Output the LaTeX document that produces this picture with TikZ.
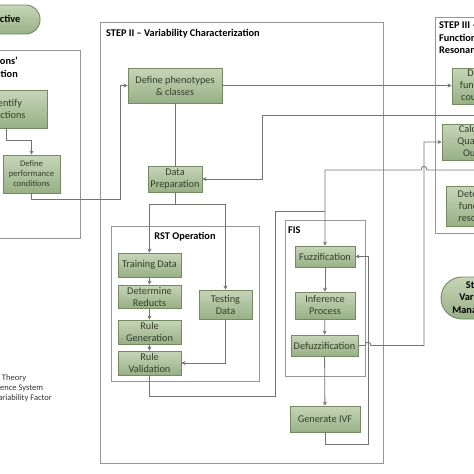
\documentclass[tikz,border=0pt]{standalone}
\usepackage{fontspec}
\setmainfont{Carlito}
\usetikzlibrary{arrows.meta}

\definecolor{boxtop}{RGB}{198,213,184}
\definecolor{boxbot}{RGB}{152,176,134}
\definecolor{boxline}{RGB}{116,138,98}
\definecolor{boxtext}{RGB}{52,64,42}
\definecolor{framegray}{RGB}{150,150,150}
\definecolor{linegray}{RGB}{115,115,115}

\tikzset{
  box/.style={draw=boxline, line width=0.9pt, top color=boxtop, bottom color=boxbot,
    align=center, text=boxtext, inner sep=1pt, font=\fontsize{10.3}{12}\selectfont},
  smallbox/.style={box, font=\fontsize{8.6}{10}\selectfont},
  pill/.style={box, text=black, font=\bfseries\fontsize{10.3}{12.5}\selectfont},
  frame/.style={draw=framegray, line width=1pt},
  title/.style={font=\bfseries\fontsize{10.3}{12.5}\selectfont, align=left, inner sep=0pt},
  legend/.style={font=\fontsize{8.5}{10}\selectfont, text=black!80, align=left, inner sep=0pt},
  conn/.style={draw=linegray, line width=0.8pt},
  arr/.style={conn, -{Stealth[length=4pt,width=4pt]}},
}

\begin{document}
\begin{tikzpicture}[x=1pt,y=-1pt]
  \clip (0,0) rectangle (474,474);

  % Frames
  \draw[frame] (-10,50) rectangle (80,238);
  \draw[frame] (100,22) rectangle (383,463);
  \draw[frame] (111,226) rectangle (259,381);
  \draw[frame] (285,220) rectangle (365,376);
  \draw[frame] (435,17) rectangle (530,233);

  % Titles
  \node[title, anchor=north east, align=right] (tI) at (18,57) {STEP I -- Functions'\\Identification};
  \node[title, anchor=base west] (tII) at (106,36) {STEP II -- Variability Characterization};
  \node[title, anchor=base] (tRST) at (185,239) {RST Operation};
  \node[title, anchor=base west] (tFIS) at (288,233) {FIS};
  \node[title, anchor=north west] (tIII) at (439,22) {STEP III --\\Functional\\Resonance};

  % Objective and step IV
  \node[pill, minimum width=80pt, minimum height=29pt, rounded corners=14pt] (obj) at (0,19.5) {Objective};
  \node[pill, minimum width=80pt, minimum height=42pt, rounded corners=21pt] (mgmt) at (481,298) {Step IV\\Variability\\Management};

  % Step I
  \node[box, minimum width=82pt, minimum height=38pt] (idf) at (6,109) {Identify\\functions};
  \node[smallbox, minimum width=57pt, minimum height=38pt] (perf) at (31.5,174) {Define\\performance\\conditions};

  % Step II
  \node[box, minimum width=94pt, minimum height=35pt] (phen) at (175,85.5) {Define phenotypes\\\& classes};
  \node[box, minimum width=54pt, minimum height=26pt] (prep) at (175,179) {Data\\Preparation};

  % RST
  \node[box, minimum width=63pt, minimum height=24pt] (train) at (149.5,265) {Training Data};
  \node[box, minimum width=63pt, minimum height=23pt] (reduct) at (149.5,296.5) {Determine\\Reducts};
  \node[box, minimum width=63pt, minimum height=24pt] (rgen) at (149.5,332) {Rule\\Generation};
  \node[box, minimum width=63pt, minimum height=24pt] (rval) at (149.5,363) {Rule\\Validation};
  \node[box, minimum width=53pt, minimum height=29pt] (test) at (225.5,304.5) {Testing\\Data};

  % FIS
  \node[box, minimum width=60pt, minimum height=21pt] (fuzz) at (325,256.5) {Fuzzification};
  \node[box, minimum width=60pt, minimum height=27pt] (infer) at (325,305.5) {Inference\\Process};
  \node[box, minimum width=67pt, minimum height=21pt] (defuzz) at (324.5,345.5) {Defuzzification};
  \node[box, minimum width=70pt, minimum height=26pt] (ivf) at (325,419) {Generate IVF};

  % Step III
  \node[box, minimum width=58pt, minimum height=36pt] (coupl) at (481,86) {Define\\functional\\couplings};
  \node[box, minimum width=72pt, minimum height=36pt] (calc) at (478,142) {Calculate\\Quality of\\Output};
  \node[box, minimum width=68pt, minimum height=40pt] (reson) at (480,206) {Determine\\functional\\resonance};

  % Legend
  \node[legend, anchor=north west] (key) at (-51,374) {RST: Rough Set Theory\\FIS: Fuzzy Inference System\\IVF: Index of Variability Factor};

  % Links step I
  \draw[arr] (idf.south) -- ++(0,12) -| (perf.north);
  \draw[arr] (perf.south) |- (120,199) |- (phen.west);

  % Links step II
  \coordinate (fromA) at (530,115);
  \coordinate (fromB) at (530,170);
  \coordinate (split) at (175,204);
  \coordinate (join) at (325,211);
  \draw[conn] (phen.south) -- (prep.north);
  \draw[arr] (phen.east) -- (phen.east -| coupl.west);
  \draw[arr] (fromA) -| (262,179) -- (prep.east);
  \draw[conn] (prep.south) -- (split);
  \draw[arr] (split) -| (train.north);
  \draw[arr] (split) -| (test.north);
  \draw[arr] (train) -- (reduct);
  \draw[arr] (reduct) -- (rgen);
  \draw[arr] (rgen) -- (rval);
  \draw[arr] (test.south) |- (rval.east);
  \draw[conn] (rval.south) |- (275,396) |- (join);
  \draw[arr] (fromB) -- (427,170) .. controls (427,165) and (421,165) .. (421,170) -| (fuzz.north);

  % Links FIS
  \draw[arr] (fuzz) -- (infer);
  \draw[arr] (infer) -- (defuzz);
  \draw[arr] (defuzz) -- (ivf);
  \draw[arr] (ivf.south) |- (368,444) |- (fuzz.east);
  \draw[arr] (defuzz.east) -- (365,345.5) .. controls (365,341) and (371,341) .. (371,345.5) -| (424,142) -- (calc.west);
\end{tikzpicture}
\end{document}
